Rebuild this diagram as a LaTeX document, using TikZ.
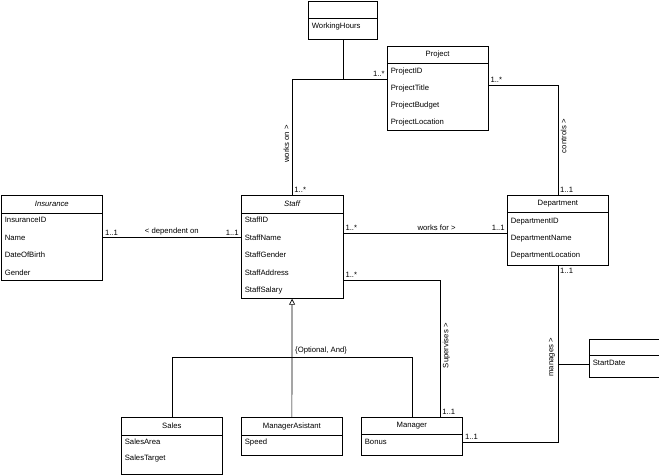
\documentclass[tikz,border=0pt]{standalone}
\usepackage{fontspec}
\setmainfont{Liberation Sans}
\usetikzlibrary{arrows.meta,calc,positioning}

\tikzset{
  cls/.style={draw, anchor=north west, minimum width=101pt, inner sep=0pt},
  clshead/.style={draw, anchor=north, minimum width=101pt, minimum height=17.5pt, inner sep=0pt},
  attrs/.style={anchor=north west, align=left, inner sep=0pt},
  mult/.style={inner sep=2pt},
  role/.style={rotate=90, inner sep=2.5pt},
}

\begin{document}
\begin{tikzpicture}[x=1pt, y=-1pt, line width=0.7pt, font=\fontsize{7.7}{17.3}\selectfont]
\useasboundingbox (0,0) rectangle (659,475);

% classes
\node[cls, minimum width=69pt, minimum height=38.5pt] (workhours) at (308,0.5) {};
\node[clshead, minimum width=69pt, minimum height=17pt] (workhourshead) at (workhours.north) {};
\node[attrs] (workhoursattr) at ($(workhours.north west)+(3.5,22)$) {WorkingHours};

\node[cls, minimum width=100.5pt, minimum height=84pt] (project) at (387,46) {};
\node[clshead, minimum width=100.5pt, minimum height=16.5pt] (projecthead) at (project.north) {Project};
\node[attrs, font=\fontsize{7.7}{17}\selectfont] (projectattr) at ($(project.north west)+(3.5,22)$)
  {ProjectID\\ProjectTitle\\ProjectBudget\\ProjectLocation};

\node[cls, minimum height=84.5pt] (insurance) at (1,195) {};
\node[clshead, minimum height=18pt] (insurancehead) at (insurance.north) {\itshape Insurance};
\node[attrs, font=\fontsize{7.7}{17.6}\selectfont] (insuranceattr) at ($(insurance.north west)+(3.5,22)$)
  {InsuranceID\\Name\\DateOfBirth\\Gender};

\node[cls, minimum width=101.5pt, minimum height=103pt] (staff) at (241,195) {};
\node[clshead, minimum width=101.5pt, minimum height=17.7pt] (staffhead) at (staff.north) {\itshape Staff};
\node[attrs, font=\fontsize{7.7}{17.5}\selectfont] (staffattr) at ($(staff.north west)+(3.5,22)$)
  {StaffID\\StaffName\\StaffGender\\StaffAddress\\StaffSalary};

\node[cls, minimum height=70pt] (department) at (507,195) {};
\node[clshead, minimum height=17.3pt] (departmenthead) at (department.north) {Department};
\node[attrs, font=\fontsize{7.7}{17}\selectfont] (departmentattr) at ($(department.north west)+(3.5,22.5)$)
  {DepartmentID\\DepartmentName\\DepartmentLocation};

\node[cls, minimum height=57pt] (sales) at (121,417) {};
\node[clshead, minimum height=17.5pt] (saleshead) at (sales.north) {Sales};
\node[attrs, font=\fontsize{7.7}{16}\selectfont] (salesattr) at ($(sales.north west)+(3.5,22)$)
  {SalesArea\\SalesTarget};

\node[cls, minimum height=38pt] (asist) at (241,417) {};
\node[clshead, minimum height=17.5pt] (asisthead) at (asist.north) {ManagerAsistant};
\node[attrs] (asistattr) at ($(asist.north west)+(3.5,22)$) {Speed};

\node[cls, minimum height=38pt] (manager) at (361,417) {};
\node[clshead, minimum height=17.3pt] (managerhead) at (manager.north) {Manager};
\node[attrs] (managerattr) at ($(manager.north west)+(3.5,22)$) {Bonus};

\node[cls, minimum width=69.5pt, minimum height=38.3pt] (startdate) at (589,338.5) {};
\node[clshead, minimum width=69.5pt, minimum height=16.7pt] (startdatehead) at (startdate.north) {};
\node[attrs] (startdateattr) at ($(startdate.north west)+(3.5,21.5)$) {StartDate};

% associations
\coordinate (won) at ($(project.north west)+(0,33)$);
\draw (staff.north) |- (won)
  node[pos=0.22, role, anchor=south] {works on >}
  node[at start, above right, mult] {1..*}
  node[at end, above left, mult] {1..*};
\draw (workhours.south) -- (workhours.south |- won);

\coordinate (ctl) at ($(project.north east)+(0,39)$);
\draw (ctl) -| (department.north)
  node[pos=0.733, role, anchor=north] {controls >}
  node[at start, above right, mult] {1..*}
  node[at end, above right, mult] {1..1};

\draw (insurance.east) -- (insurance.east -| staff.west)
  node[at start, above right, mult] {1..1}
  node[midway, above, mult] {< dependent on}
  node[at end, above left, mult] {1..1};

\coordinate (wfr) at ($(department.north west)+(0,38)$);
\draw (staff.east |- wfr) -- (wfr)
  node[pos=0.57, above, mult] {works for >}
  node[at start, above right, mult] {1..*}
  node[at end, above left, mult] {1..1};

\coordinate (sup) at ($(manager.north west)+(79,0)$);
\draw ($(staff.north east)+(0,85)$) -| (sup)
  node[pos=0.74, role, anchor=north] {Supervises >}
  node[at start, above right, mult] {1..*}
  node[at end, above right, mult] {1..1};

\coordinate (mgr) at ($(manager.north east)+(0,25)$);
\draw (department.south) |- (mgr)
  node[pos=0.26, role, anchor=south] {manages >}
  node[at start, below right, mult] {1..1}
  node[at end, above right, mult] {1..1};

\coordinate (sdl) at ($(startdate.south west)+(0,-13.4)$);
\draw (sdl -| department.south) -- (sdl);

% generalization
\coordinate (gen) at ($(asist.north)+(0,-59.3)$);
\draw[-{Triangle[open, length=6pt, width=6pt]}] (asist.north) -- (staff.south);
\draw (sales.north) |- (gen) -| (manager.north);
\node[above right, inner sep=3pt] (genlabel) at (gen) {\{Optional, And\}};

\end{tikzpicture}
\end{document}
